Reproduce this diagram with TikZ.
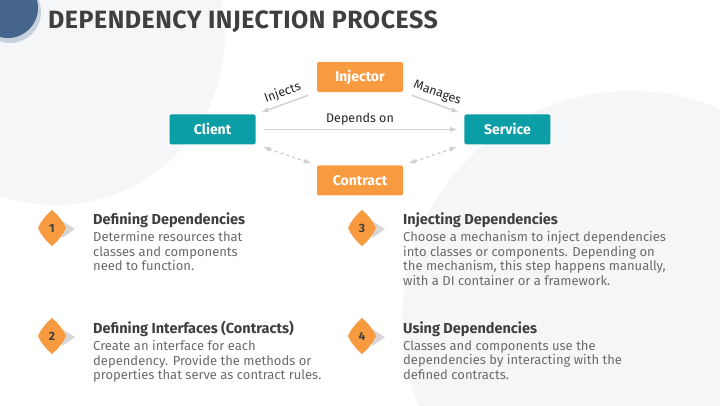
\documentclass[tikz,border=0pt]{standalone}
\usepackage{fontspec}
\setmainfont{Fira Sans}
\usetikzlibrary{positioning}

\definecolor{tealbox}{HTML}{0B9EA7}
\definecolor{orangebox}{HTML}{F89B40}
\definecolor{headgrey}{HTML}{3F3F3F}
\definecolor{bodygrey}{HTML}{6B6B6B}
\definecolor{arrowgrey}{HTML}{D0D0D0}
\definecolor{dotblue}{HTML}{46658C}
\definecolor{dotshade}{HTML}{C8D2DE}
\definecolor{backdrop}{HTML}{F5F6F8}
\definecolor{badgeshade}{HTML}{D6D6D6}

\begin{document}
\begin{tikzpicture}[x=1pt, y=-1pt,
    every node/.style = {inner sep=0pt},
    role/.style       = {minimum width=86pt, minimum height=30pt, rounded corners=2pt,
                         text=white, font=\fontsize{14}{16}\selectfont\bfseries},
    core/.style       = {role, fill=tealbox},
    support/.style    = {role, fill=orangebox},
    flow/.style       = {draw=arrowgrey, line width=1.4pt, -latex},
    link/.style       = {flow, dashed, latex-latex},
    relation/.style   = {font=\fontsize{12.5}{14}\selectfont, text=black!85},
    badge/.style      = {font=\fontsize{12}{14}\selectfont\bfseries, text=headgrey},
    steptitle/.style  = {anchor=base west, font=\fontsize{14.5}{16}\selectfont\bfseries, text=headgrey},
    stepbody/.style   = {align=left, font=\fontsize{13}{14.5}\selectfont, text=bodygrey}
  ]
  \useasboundingbox (0,0) rectangle (720,405);
  \clip (0,0) rectangle (720,405);

  % backdrop
  \fill[white] (0,0) rectangle (720,405);
  \fill[backdrop] (55,35) circle (170);
  \fill[backdrop] (631,320) circle (229);
  \fill[dotshade] (10,12) circle (31);
  \fill[dotblue] (8,8) circle (30);

  \node (heading) [anchor=base west, font=\fontsize{25}{28}\selectfont\bfseries\addfontfeatures{LetterSpace=2}, text=headgrey]
    at (48,28) {DEPENDENCY INJECTION PROCESS};

  % diagram
  \node (injector) [support] at (360,77)                     {Injector};
  \node (client)   [core, below left=22pt and 61pt of injector]  {Client};
  \node (service)  [core, below right=22pt and 61pt of injector] {Service};
  \node (contract) [support, below=73pt of injector]             {Contract};

  \draw[flow, shorten <=9pt, shorten >=6pt] (injector.south west) to
    node[relation, sloped, midway, above=4pt] (injects) {Injects} (client.north east);
  \draw[flow, shorten <=9pt, shorten >=6pt] (injector.south east) to
    node[relation, sloped, midway, above=4pt] (manages) {Manages} (service.north west);
  \draw[flow, shorten <=8pt, shorten >=7pt] (client) to
    node[relation, midway, above=4pt] (dependson) {Depends on} (service);
  \draw[link, shorten <=8pt, shorten >=6pt] (client.south east) to (contract.north west);
  \draw[link, shorten <=6pt, shorten >=8pt] (contract.north east) to (service.south west);

  % steps
  \foreach \n/\x/\y in {1/52/228, 2/52/336, 3/362/228, 4/362/336}{
    \begin{scope}[shift={(\x,\y)}]
      \fill[badgeshade] (10,-7) -- (23,1) -- (10,10) -- cycle;
      \fill[orangebox] (0,-18) .. controls (6,-13) and (11,-7) .. (14,0)
                               .. controls (11,7) and (6,13) .. (0,18)
                               .. controls (-6,13) and (-11,7) .. (-14,0)
                               .. controls (-11,-7) and (-6,-13) .. (0,-18) -- cycle;
    \end{scope}
    \node (badge\n) [badge] at (\x,\y) {\n};
  }

  \node (title1) [steptitle] at (93,224)  {Defining Dependencies};
  \node (body1)  [stepbody, below=4pt of title1.south west, anchor=north west] {Determine resources that\\classes and components\\need to function.};

  \node (title2) [steptitle] at (93,333)  {Defining Interfaces (Contracts)};
  \node (body2)  [stepbody, below=4pt of title2.south west, anchor=north west] {Create an interface for each\\dependency. Provide the methods or\\properties that serve as contract rules.};

  \node (title3) [steptitle] at (403,224) {Injecting Dependencies};
  \node (body3)  [stepbody, below=4pt of title3.south west, anchor=north west] {Choose a mechanism to inject dependencies\\into classes or components. Depending on\\the mechanism, this step happens manually,\\with a DI container or a framework.};

  \node (title4) [steptitle] at (403,333) {Using Dependencies};
  \node (body4)  [stepbody, below=4pt of title4.south west, anchor=north west] {Classes and components use the\\dependencies by interacting with the\\defined contracts.};
\end{tikzpicture}
\end{document}
